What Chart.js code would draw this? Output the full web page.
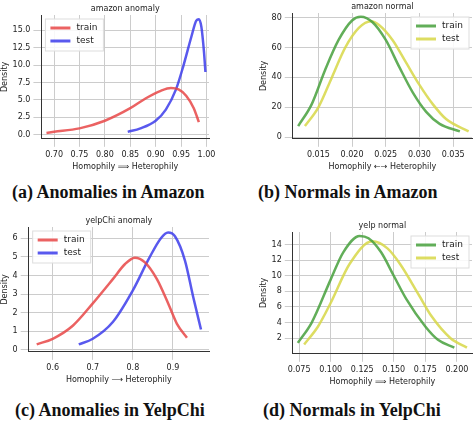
<!DOCTYPE html>
<html>
<head>
<meta charset="utf-8">
<script src="https://cdn.jsdelivr.net/npm/chart.js@4.4.0/dist/chart.umd.min.js"></script>
<style>
  body { margin: 0; background: #fff; width: 474px; height: 425px; position: relative; overflow: hidden; }
  .box { position: absolute; }
  .cap { position: absolute; font-family: "Liberation Serif", serif; font-weight: bold; font-size: 18px; color: #111; white-space: nowrap; }
</style>
</head>
<body>
<div class="box" style="left:0;top:0;width:237px;height:180px"><canvas id="ca"></canvas></div>
<div class="box" style="left:237px;top:0;width:237px;height:180px"><canvas id="cb"></canvas></div>
<div class="box" style="left:0;top:210px;width:237px;height:183px"><canvas id="cc"></canvas></div>
<div class="box" style="left:237px;top:212px;width:237px;height:183px"><canvas id="cd"></canvas></div>
<div class="cap" style="left:12px;top:182px">(a) Anomalies in Amazon</div>
<div class="cap" style="left:258px;top:182px">(b) Normals in Amazon</div>
<div class="cap" style="left:15px;top:400px">(c) Anomalies in YelpChi</div>
<div class="cap" style="left:263px;top:400px">(d) Normals in YelpChi</div>
<script>
// amazon anomaly
const aTrainX = [0.685, 0.70, 0.75, 0.80, 0.85, 0.88, 0.91, 0.93, 0.945, 0.96, 0.975, 0.985];
const aTrainY = [0.25, 0.4, 0.9, 2.0, 3.8, 5.2, 6.3, 6.7, 6.5, 5.6, 3.8, 1.8];
const aTestX = [0.845, 0.87, 0.90, 0.92, 0.94, 0.955, 0.97, 0.98, 0.985, 0.99, 0.995, 0.998];
const aTestY = [0.4, 0.9, 2.0, 3.6, 6.5, 10, 14, 16.4, 16.6, 15.5, 12, 9];
// amazon normal
const bTrainX = [0.012, 0.014, 0.016, 0.018, 0.020, 0.0213, 0.023, 0.025, 0.027, 0.029, 0.031, 0.033, 0.036];
const bTrainY = [7.5, 22, 45, 65, 78, 80.5, 77, 65, 47, 30, 17, 9, 4];
const bTestX = [0.013, 0.015, 0.017, 0.019, 0.021, 0.0228, 0.024, 0.026, 0.028, 0.030, 0.032, 0.034, 0.0373];
const bTestY = [7.5, 20, 40, 60, 73, 77.5, 75, 65, 50, 35, 22, 12, 4];
// yelpChi anomaly
const cTrainX = [0.56, 0.60, 0.65, 0.70, 0.75, 0.78, 0.805, 0.83, 0.86, 0.89, 0.91, 0.935];
const cTrainY = [0.3, 0.6, 1.3, 2.5, 3.8, 4.6, 4.95, 4.7, 3.8, 2.4, 1.4, 0.65];
const cTestX = [0.665, 0.70, 0.75, 0.80, 0.84, 0.87, 0.888, 0.905, 0.93, 0.95, 0.97];
const cTestY = [0.3, 0.6, 1.5, 3.2, 4.9, 6.0, 6.3, 6.1, 4.8, 2.9, 1.1];
// yelp normal
const dTrainX = [0.074, 0.085, 0.10, 0.11, 0.123, 0.13, 0.14, 0.15, 0.16, 0.175, 0.185, 0.198];
const dTrainY = [1.4, 4, 9.5, 13, 15.1, 14.8, 13, 10, 7, 3.5, 1.8, 0.8];
const dTestX = [0.079, 0.09, 0.10, 0.115, 0.133, 0.145, 0.155, 0.17, 0.18, 0.195, 0.208];
const dTestY = [1.2, 3.5, 6.5, 11.5, 14.4, 13.5, 11.5, 7.5, 4.8, 2, 0.8];

const RED = 'rgba(232,70,70,0.85)', BLUE = 'rgba(60,60,235,0.85)';
const GREEN = 'rgba(70,160,60,0.85)', YELLOW = 'rgba(215,215,70,0.85)';

function pts(xs, ys) { return xs.map((x, i) => ({ x: x, y: ys[i] })); }

// legend drawn inside the plot, plus the title centred over the plot area
const insideLegend = {
  id: 'insideLegend',
  afterDraw(chart, args, opts) {
    const ctx = chart.ctx, a = chart.chartArea;
    ctx.save();
    ctx.font = '8px "DejaVu Sans"';
    ctx.fillStyle = '#222';
    ctx.textAlign = 'center';
    ctx.textBaseline = 'bottom';
    ctx.fillText(opts.title, (a.left + a.right) / 2, a.top - 2);
    ctx.textAlign = 'left';
    const w = 58, h = 32;
    const x0 = opts.side === 'left' ? a.left + 4 : a.right - w - 3;
    const y0 = a.top + 4;
    ctx.fillStyle = 'rgba(255,255,255,0.85)';
    ctx.strokeStyle = '#ddd';
    ctx.fillRect(x0, y0, w, h);
    ctx.strokeRect(x0, y0, w, h);
    ctx.font = '9px "DejaVu Sans"';
    ctx.textBaseline = 'middle';
    chart.data.datasets.forEach((ds, i) => {
      const yy = y0 + 9 + i * 13;
      ctx.strokeStyle = ds.borderColor;
      ctx.lineWidth = 3;
      ctx.beginPath(); ctx.moveTo(x0 + 5, yy); ctx.lineTo(x0 + 25, yy); ctx.stroke();
      ctx.fillStyle = '#222';
      ctx.fillText(ds.label, x0 + 31, yy);
    });
    ctx.restore();
  }
};

function makeChart(id, title, xTitle, train, test, c1, c2, xr, yr, side, pad) {
  new Chart(document.getElementById(id), {
    type: 'line',
    data: {
      datasets: [
        { label: 'train', data: train, borderColor: c1, borderWidth: 2.5, pointRadius: 0, tension: 0.4, cubicInterpolationMode: 'monotone' },
        { label: 'test', data: test, borderColor: c2, borderWidth: 2.5, pointRadius: 0, tension: 0.4, cubicInterpolationMode: 'monotone' }
      ]
    },
    options: {
      responsive: true,
      maintainAspectRatio: false,
      animation: false,
      layout: { padding: pad },
      plugins: {
        legend: { display: false },
        tooltip: { enabled: false },
        title: { display: false },
        insideLegend: { side: side, title: title }
      },
      scales: {
        x: {
          type: 'linear', min: xr[0], max: xr[1],
          afterBuildTicks: s => { s.ticks = xr[2].map(v => ({ value: v })); },
          ticks: { color: '#222', font: { family: 'DejaVu Sans', size: 8 }, maxRotation: 0, callback: v => v.toFixed(xr[3]) },
          grid: { color: '#ccc' },
          border: { color: '#333' },
          title: { display: true, text: xTitle, color: '#222', font: { family: 'DejaVu Sans', size: 8 }, padding: 0 }
        },
        y: {
          min: yr[0], max: yr[1],
          afterBuildTicks: s => { s.ticks = yr[2].map(v => ({ value: v })); },
          ticks: { color: '#222', font: { family: 'DejaVu Sans', size: 8 }, callback: v => v.toFixed(yr[3]) },
          grid: { color: '#ccc' },
          border: { color: '#333' },
          title: { display: true, text: 'Density', color: '#222', font: { family: 'DejaVu Sans', size: 8 }, padding: 0 }
        }
      }
    },
    plugins: [insideLegend]
  });
}

makeChart('ca', 'amazon anomaly', 'Homophily \u27f9 Heterophily', pts(aTrainX, aTrainY), pts(aTestX, aTestY), RED, BLUE,
  [0.675, 1.005, [0.70, 0.75, 0.80, 0.85, 0.90, 0.95, 1.00], 2],
  [-0.6, 17.2, [0, 2.5, 5, 7.5, 10, 12.5, 15], 1], 'left', { top: 15, right: 28, left: 0, bottom: 8 });
makeChart('cb', 'amazon normal', 'Homophily \u2190\u2192 Heterophily', pts(bTrainX, bTrainY), pts(bTestX, bTestY), GREEN, YELLOW,
  [0.0112, 0.0378, [0.015, 0.020, 0.025, 0.030, 0.035], 3],
  [-1, 83, [0, 20, 40, 60, 80], 0], 'right', { top: 13, right: 2, left: 22, bottom: 8 });
makeChart('cc', 'yelpChi anomaly', 'Homophily \u27f6 Heterophily', pts(cTrainX, cTrainY), pts(cTestX, cTestY), RED, BLUE,
  [0.54, 0.99, [0.6, 0.7, 0.8, 0.9], 1],
  [-0.1, 6.6, [0, 1, 2, 3, 4, 5, 6], 0], 'left', { top: 17, right: 28, left: 0, bottom: 8 });
makeChart('cd', 'yelp normal', 'Homophily \u27f9 Heterophily', pts(dTrainX, dTrainY), pts(dTestX, dTestY), GREEN, YELLOW,
  [0.07, 0.212, [0.075, 0.100, 0.125, 0.150, 0.175, 0.200], 3],
  [0, 15.6, [2, 4, 6, 8, 10, 12, 14], 0], 'right', { top: 20, right: 2, left: 22, bottom: 8 });
</script>
</body>
</html>
